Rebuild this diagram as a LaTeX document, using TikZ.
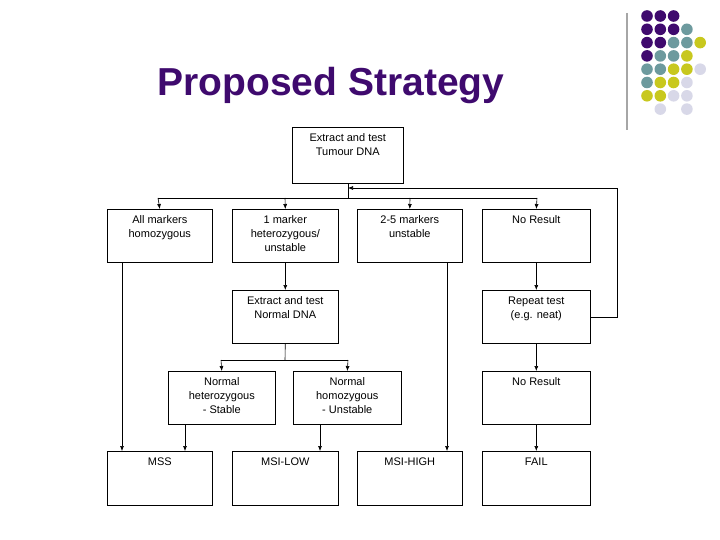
\documentclass[tikz,border=0pt]{standalone}
\usepackage{fontspec}
\setmainfont{Liberation Sans}
\usetikzlibrary{positioning,arrows.meta}
\definecolor{dpurple}{HTML}{3F0A6E}
\definecolor{dteal}{HTML}{6D9A9E}
\definecolor{dyellow}{HTML}{C8C81E}
\definecolor{dlav}{HTML}{D8D8E8}
\tikzset{
  box/.style={draw, line width=0.6pt, anchor=north west, inner sep=0pt},
  arr/.style={-{Latex[length=5pt,width=4pt]}, line width=0.6pt},
  ln/.style={line width=0.6pt}
}
\newcommand{\bx}[3]{\parbox[t][#2pt][t]{#1pt}{\centering\vspace{6.5pt}\fontsize{11}{14}\selectfont #3\par}}
\begin{document}
\begin{tikzpicture}[x=1pt, y=-1pt]
\useasboundingbox (0,0) rectangle (720,540);

% decoration
\draw[line width=2pt, gray!70] (627,13) -- (627,130);
\foreach \c/\r/\col in {0/0/dpurple,1/0/dpurple,2/0/dpurple,
  0/1/dpurple,1/1/dpurple,2/1/dpurple,3/1/dteal,
  0/2/dpurple,1/2/dpurple,2/2/dteal,3/2/dteal,4/2/dyellow,
  0/3/dpurple,1/3/dteal,2/3/dteal,3/3/dyellow,
  0/4/dteal,1/4/dteal,2/4/dyellow,3/4/dyellow,4/4/dlav,
  0/5/dteal,1/5/dyellow,2/5/dyellow,3/5/dlav,
  0/6/dyellow,1/6/dyellow,2/6/dlav,3/6/dlav,
  1/7/dlav,3/7/dlav}
  \fill[\col] (647+13.3*\c, 16+13.3*\r) circle (5.8pt);

\node[text=dpurple, font=\bfseries\fontsize{39}{40}\selectfont] (title) at (331,86) {Proposed Strategy};

% boxes
\node[box] (tumour) at (292,127) {\bx{111}{56}{Extract and test\\Tumour DNA}};
\node[box] (all) at (107,209) {\bx{105}{53}{All markers\\homozygous}};
\node[box] (one) at (232,209) {\bx{106}{53}{1 marker\\heterozygous/\\unstable}};
\node[box] (two) at (357,209) {\bx{105}{53}{2-5 markers\\unstable}};
\node[box] (nores) at (482,209) {\bx{108}{53}{No Result}};
\node[box] (normal) at (232,290) {\bx{106}{53}{Extract and test\\Normal DNA}};
\node[box] (repeat) at (482,290) {\bx{108}{53}{Repeat test\\(e.g. neat)}};
\node[box] (het) at (168,371) {\bx{107}{53}{Normal\\heterozygous\\- Stable}};
\node[box] (hom) at (293,371) {\bx{108}{53}{Normal\\homozygous\\- Unstable}};
\node[box] (nores2) at (482,371) {\bx{108}{53}{No Result}};
\node[box] (mss) at (107,451) {\bx{105}{54}{MSS}};
\node[box] (low) at (232,451) {\bx{106}{54}{MSI-LOW}};
\node[box] (high) at (357,451) {\bx{105}{54}{MSI-HIGH}};
\node[box] (fail) at (482,451) {\bx{108}{54}{FAIL}};

% connectors
\coordinate (split) at (348,198);
\coordinate (back) at (348,188);
\draw[ln] (tumour.south -| split) -- (split);
\draw[ln] (158,198) -- (537,198);
\draw[arr] (158,198) -- (all.north);
\draw[arr] (285,198) -- (one.north);
\draw[arr] (410,198) -- (two.north);
\draw[arr] (537,198) -- (nores.north);
\draw[arr] (repeat.east) -- ++(27,0) |- (back);
\draw[arr] (one.south) -- (normal.north);
\draw[arr] (nores.south) -- (repeat.north);
\draw[arr] (repeat.south) -- (nores2.north);
\draw[arr] (nores2.south) -- (fail.north);
\draw[ln] (normal.south) -- (285,360);
\draw[ln] (221,360) -- (348,360);
\draw[arr] (221,360) -- (het.north);
\draw[arr] (348,360) -- (hom.north);
\draw[arr] (122,262) -- (122,451);
\draw[arr] (185,424) -- (185,451);
\draw[arr] (320,424) -- (320,451);
\draw[arr] (447,262) -- (447,451);
\end{tikzpicture}
\end{document}
